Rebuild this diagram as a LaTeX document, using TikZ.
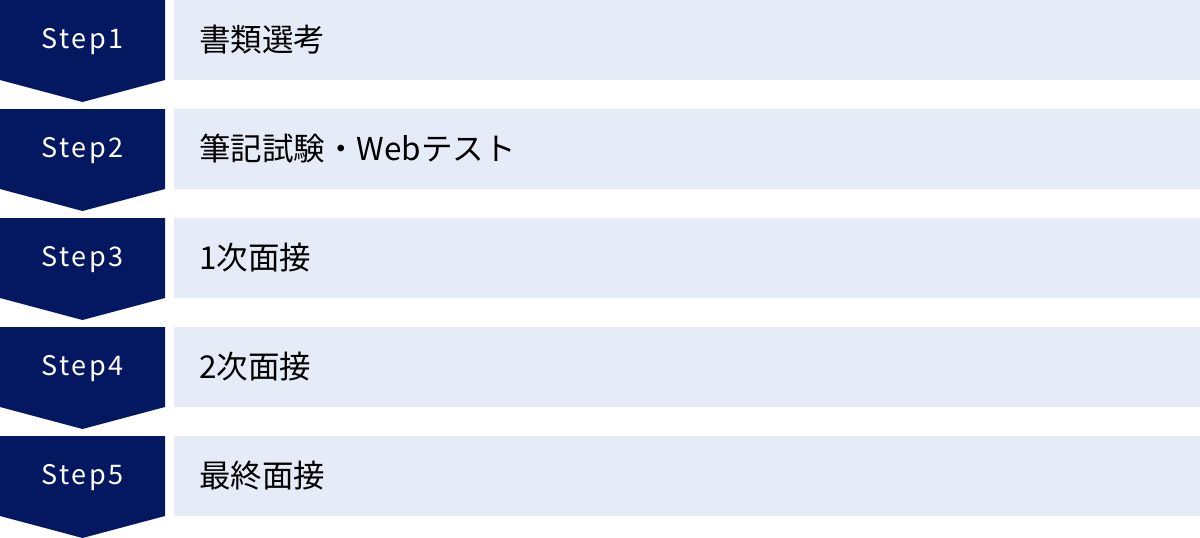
\documentclass[tikz,border=0pt]{standalone}
\usepackage{fontspec}
\setmainfont{Noto Sans CJK JP}
\newfontfamily\stepfont[LetterSpace=9]{Noto Sans CJK JP}
\definecolor{navy}{RGB}{4,24,98}
\definecolor{pale}{RGB}{230,235,248}
\begin{document}
\begin{tikzpicture}[x=1pt,y=-1pt,
  chev/.style={fill=navy,draw=none},
  bar/.style={fill=pale,draw=none},
  steplbl/.style={text=white,font=\stepfont\fontsize{27}{32}\selectfont,inner sep=0pt},
  itemlbl/.style={text=black,font=\fontsize{31.5}{38}\selectfont,anchor=west,inner sep=0pt}]
\useasboundingbox (0,0) rectangle (1200,538);
\foreach \i/\t in {1/書類選考,2/筆記試験・Webテスト,3/1次面接,4/2次面接,5/最終面接}{
  \pgfmathsetmacro{\top}{(\i-1)*109}
  \fill[chev] (0,\top) -- (165,\top) -- (165,\top+80) -- (82.5,\top+102) -- (0,\top+80) -- cycle;
  \fill[bar] (174,\top) rectangle (1200,\top+80);
  \node[steplbl] (s\i) at (82.5,\top+42) {Step\i};
  \node[itemlbl] (t\i) at (199,\top+40) {\t};
}
\end{tikzpicture}
\end{document}
